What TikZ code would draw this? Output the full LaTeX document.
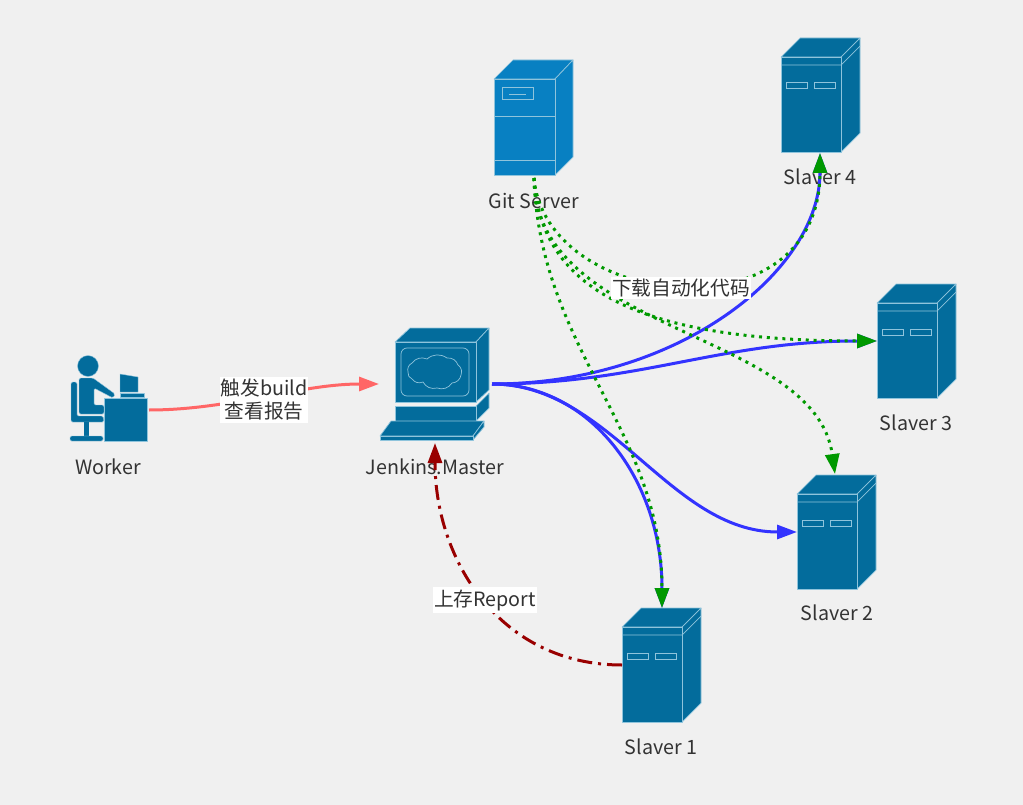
\documentclass[tikz,border=0pt]{standalone}
\usepackage{fontspec}
\setmainfont{Noto Sans CJK SC}
\usetikzlibrary{arrows.meta}
\definecolor{bgc}{HTML}{F0F0F0}
\definecolor{icon}{HTML}{036C9C}
\definecolor{gitc}{HTML}{0880C2}
\definecolor{edge}{HTML}{8FC4DC}
\definecolor{txt}{HTML}{333333}
\definecolor{bluel}{HTML}{3333FF}
\definecolor{greenl}{HTML}{009900}
\definecolor{redl}{HTML}{FF6666}
\definecolor{dred}{HTML}{990000}
\tikzset{
  box/.style={fill=icon,draw=edge,line width=0.7pt,line join=round},
  port/.style={coordinate},
  iconlabel/.style={text=txt,font=\fontsize{19.7}{24}\selectfont,inner sep=0pt,anchor=center},
  edgelabel/.style={text=txt,font=\fontsize{19.7}{24}\selectfont,fill=white,inner xsep=1pt,inner ysep=2pt,align=center},
  conn/.style={line width=3pt,-{Triangle[length=20pt,width=14pt]}},
  bluec/.style={conn,bluel},
  dotc/.style={conn,greenl,dash pattern=on 3pt off 4.8pt},
  serverpic/.pic={
    \path[box] (0,0) -- (19,-19) -- (79,-19) -- (60,0) -- cycle;
    \path[box] (60,0) -- (79,-19) -- (79,76) -- (60,95) -- cycle;
    \path[box] (0,0) rectangle (60,95);
    \draw[edge,line width=0.7pt] (0,8) -- (60,8) -- (79,-11);
    \draw[edge,line width=1pt] (5,26) rectangle (26,32);
    \draw[edge,line width=1pt] (33,26) rectangle (54,32);
  }
}
\begin{document}
\begin{tikzpicture}[x=1pt,y=-1pt]
\useasboundingbox (0,0) rectangle (1023,805);
\fill[bgc] (0,0) rectangle (1023,805);

% Worker
\node[port] (worker) at (149,410) {};
\fill[icon,draw=edge,line width=0.4pt] (88,366) circle (10.5);
\path[box,line width=0.4pt,rounded corners=1.5pt] (71,382) -- (77,382) -- (77,416) -- (103,416) -- (104,422) -- (71,422) -- cycle;
\path[box,line width=0.4pt,rounded corners=1.5pt] (79,378) -- (93,378) -- (115,394) -- (113,398) -- (94,388) -- (94,405) -- (104,405) -- (104,414) -- (79,414) -- cycle;
\fill[icon] (84,422) rectangle (89,436);
\path[box,line width=0.4pt,rounded corners=1.5pt] (70,436) rectangle (103,441);
\path[box,line width=0.4pt] (104,398) rectangle (147,441);
\path[box,line width=0.4pt] (120,374) -- (138,377) -- (138,392) -- (120,392) -- cycle;
\path[box,line width=0.4pt] (120,393) rectangle (144,397);
\node[iconlabel] (workerlabel) at (108,466.5) {Worker};

% Jenkins master
\node[port] (jin) at (379,384) {};
\node[port] (jout) at (492,384) {};
\node[port] (jrep) at (435,443) {};
\path[box] (395,342) -- (410,328) -- (489,328) -- (476,342) -- cycle;
\path[box] (476,342) -- (489,328) -- (489,390) -- (476,402) -- cycle;
\path[box] (395,342) rectangle (476,402);
\path[box] (476,406) -- (489,393) -- (489,408) -- (476,421) -- cycle;
\path[box] (395,406) rectangle (476,421);
\path[box] (380,436) -- (391,421) -- (484,421) -- (473,436) -- cycle;
\path[box] (473,436) -- (484,421) -- (484,427) -- (473,440) -- cycle;
\path[box] (380,436) rectangle (473,440);
\draw[edge,line width=0.7pt,rounded corners=6pt] (401,348) rectangle (469,396);
\draw[edge,line width=0.7pt,bend left=38] (412,363) to (427,359) to (447,358) to (458,365) to (461,375) to (452,383) to (437,388) to (423,382) to (412,379) to (408,372) to (412,363);
\node[iconlabel] (jenkinslabel) at (435,466.5) {Jenkins.Master};

% Git server
\node[port] (gitout) at (534,178) {};
\path[box,fill=gitc] (494,79) -- (513,60) -- (573,60) -- (555,79) -- cycle;
\path[box,fill=gitc] (555,79) -- (573,60) -- (573,157) -- (555,175) -- cycle;
\path[box,fill=gitc] (494,79) rectangle (555,175);
\draw[edge,line width=1pt] (502,88) rectangle (533,100);
\draw[edge,line width=0.8pt] (509,94) -- (526,94);
\draw[edge,line width=1pt] (494,117) -- (555,117);
\draw[edge,line width=1pt] (494,161) -- (555,161);
\node[iconlabel] (gitlabel) at (534,200.5) {Git Server};

% Slaves
\pic at (781,57) {serverpic};
\pic at (877,303) {serverpic};
\pic at (797,494) {serverpic};
\pic at (622,627) {serverpic};
\node[port] (s4) at (820,153) {};
\node[port] (s3) at (877,341) {};
\node[port] (s2) at (835,474) {};
\node[port] (s2b) at (797,532) {};
\node[port] (s1) at (662,608) {};
\node[port] (s1r) at (622,665) {};
\node[iconlabel] (s4label) at (820,176.5) {Slaver 4};
\node[iconlabel] (s3label) at (916,422.5) {Slaver 3};
\node[iconlabel] (s2label) at (837,612.5) {Slaver 2};
\node[iconlabel] (s1label) at (661,746.5) {Slaver 1};

% Connectors
\draw[conn,redl] (worker) .. controls (230,410) and (300,384) .. (jin);
\draw[conn,dred,dash pattern=on 15pt off 6pt on 3pt off 6pt] (s1r) .. controls (500,665) and (435,560) .. (jrep);
\draw[bluec] (jout) .. controls (680,384) and (820,270) .. (s4);
\draw[bluec] (jout) .. controls (640,384) and (720,341) .. (s3);
\draw[bluec] (jout) .. controls (610,384) and (670,532) .. (s2b);
\draw[bluec] (jout) .. controls (590,384) and (662,480) .. (s1);
\draw[dotc] (gitout) .. controls (545,310) and (820,340) .. (s4);
\draw[dotc] (gitout) .. controls (540,290) and (640,341) .. (s3);
\draw[dotc] (gitout) .. controls (535,335) and (815,330) .. (s2);
\draw[dotc] (gitout) .. controls (540,350) and (662,430) .. (s1);

% Edge labels
\node[edgelabel] (lbuild) at (264,400) {触发build\\[-1pt]查看报告};
\node[edgelabel] (lreport) at (485,600) {上存Report};
\node[edgelabel] (ldown) at (681,288) {下载自动化代码};
\end{tikzpicture}
\end{document}
